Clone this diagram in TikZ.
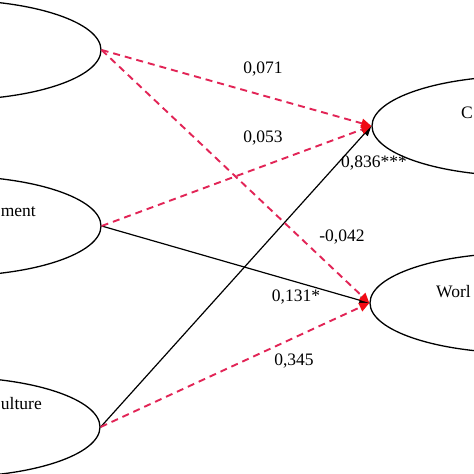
\documentclass[tikz,border=0pt]{standalone}
\usepackage{fontspec}
\setmainfont{Liberation Serif}
\usetikzlibrary{shapes.geometric,arrows.meta}
\definecolor{pathred}{RGB}{226,36,86}
\definecolor{headred}{RGB}{240,10,20}
\begin{document}
\begin{tikzpicture}[x=1pt,y=-1pt,
  latent/.style={ellipse, draw=black, line width=1.3pt, minimum width=300pt, minimum height=100pt, inner sep=0pt},
  lbl/.style={font=\fontsize{17.5}{20}\selectfont, inner sep=0pt},
  dasharrow/.style={draw=pathred, line width=1.9pt, dash pattern=on 7pt off 5pt, -{Triangle[length=10pt,width=9pt,fill=headred,color=headred]}},
  solidarrow/.style={draw=black, line width=1.2pt, -{Triangle[length=10pt,width=8pt]}}]
\useasboundingbox (0,0) rectangle (474,474);
\clip (0,0) rectangle (474,474);
\fill[white] (0,0) rectangle (474,474);
% latent variables
\node[latent] (ex1) at (-49,50) {};
\node[latent] (ex2) at (-49,226) {};
\node[latent] (ex3) at (-50,427) {};
\node[latent] (oc) at (522,126) {};
\node[latent] (wp) at (520,303) {};
% partial names
\node[lbl, anchor=east] (t2) at (36,212) {ment};
\node[lbl, anchor=east] (t3) at (42,404) {ulture};
\node[lbl, anchor=west] (t4) at (461,113) {C};
\node[lbl, anchor=west] (t5) at (436,292) {Worl};
% paths
\draw[solidarrow] (ex2.east) -- (wp.west);
\draw[solidarrow] (ex3.east) -- (oc.west);
\draw[dasharrow] (ex1.east) -- (oc.west);
\draw[dasharrow] (ex1.east) -- (wp.west);
\draw[dasharrow] (ex2.east) -- (oc.west);
\draw[dasharrow] (ex3.east) -- (wp.west);
% coefficients
\node[lbl] (c1) at (263,69) {0,071};
\node[lbl] (c2) at (263,138) {0,053};
\node[lbl] (c3) at (374,163) {0,836***};
\node[lbl] (c4) at (342,237) {-0,042};
\node[lbl] (c5) at (296,297) {0,131*};
\node[lbl] (c6) at (294,361) {0,345};
\end{tikzpicture}
\end{document}
